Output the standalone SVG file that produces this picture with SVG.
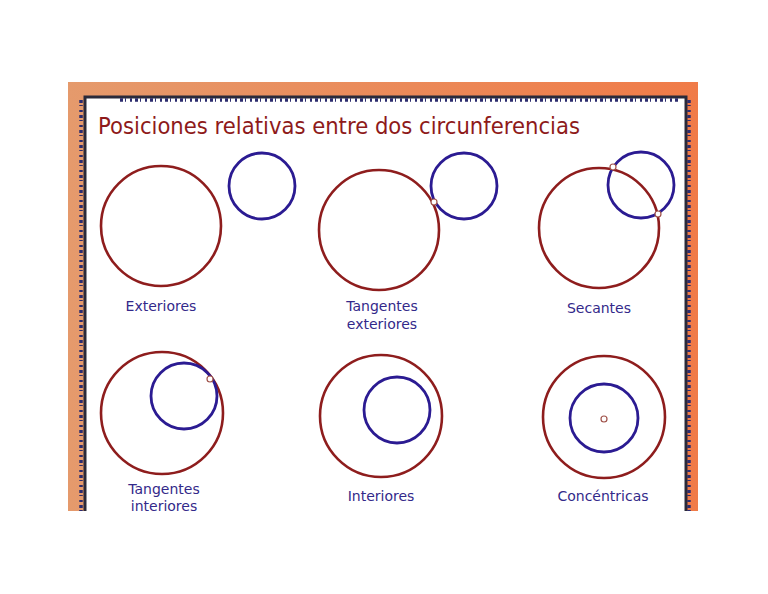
<svg xmlns="http://www.w3.org/2000/svg" width="768" height="594" viewBox="0 0 768 594">
<defs>
<linearGradient id="og" x1="0" y1="0" x2="1" y2="0">
<stop offset="0" stop-color="#e59a6c"/>
<stop offset="1" stop-color="#f07b48"/>
</linearGradient>
<clipPath id="cut"><rect x="0" y="0" width="768" height="511"/></clipPath>
<style>
.red{fill:none;stroke:#8e1d1d;stroke-width:2.6}
.blue{fill:none;stroke:#2b1b92;stroke-width:2.8}
.pt{fill:#fff;stroke:#a0524a;stroke-width:1.2}
.lbl{font-family:"DejaVu Sans",Verdana,sans-serif;font-size:14px;fill:#33298a;text-anchor:middle}
.title{font-family:"DejaVu Sans",sans-serif;font-size:23px;fill:#8e1a1a}
.tex{fill:none;stroke:#2c2c6e;stroke-width:3.5;stroke-dasharray:3 2 1 4 2 3}
</style>
</defs>
<rect width="768" height="594" fill="#fff"/>
<g clip-path="url(#cut)">
<rect id="frame" x="68" y="82" width="630" height="440" fill="url(#og)"/>
<g id="panel">
<rect x="85" y="97" width="601" height="425" fill="#fff" stroke="#2a2a3a" stroke-width="3"/>
<line class="tex" x1="81" y1="100" x2="81" y2="520"/>
<line class="tex" x1="689" y1="100" x2="689" y2="520" stroke-width="2"/>
<line class="tex" x1="120" y1="100" x2="680" y2="100" stroke-dasharray="8 5 3 9 12 6"/>
</g>
<text id="title" class="title" x="98" y="134" textLength="482" lengthAdjust="spacingAndGlyphs">Posiciones relativas entre dos circunferencias</text>
<g id="exteriores">
<circle class="red" cx="161" cy="226" r="60"/>
<circle class="blue" cx="262" cy="186" r="33"/>
<text class="lbl" x="161" y="311">Exteriores</text>
</g>
<g id="tangentes-exteriores">
<circle class="red" cx="379" cy="230" r="60"/>
<circle class="blue" cx="464" cy="186" r="33"/>
<circle class="pt" cx="434" cy="202" r="3"/>
<text class="lbl" x="382" y="311">Tangentes</text>
<text class="lbl" x="382" y="329">exteriores</text>
</g>
<g id="secantes">
<circle class="red" cx="599" cy="228" r="60"/>
<circle class="blue" cx="641" cy="185" r="33"/>
<circle class="pt" cx="613" cy="167" r="3"/>
<circle class="pt" cx="658" cy="214" r="3"/>
<text class="lbl" x="599" y="313">Secantes</text>
</g>
<g id="tangentes-interiores">
<circle class="red" cx="162" cy="413" r="61"/>
<circle class="blue" cx="184" cy="396" r="33"/>
<circle class="pt" cx="210" cy="379" r="3"/>
<text class="lbl" x="164" y="494">Tangentes</text>
<text class="lbl" x="164" y="511">interiores</text>
</g>
<g id="interiores">
<circle class="red" cx="381" cy="416" r="61"/>
<circle class="blue" cx="397" cy="410" r="33"/>
<text class="lbl" x="381" y="501">Interiores</text>
</g>
<g id="concentricas">
<circle class="red" cx="604" cy="417" r="61"/>
<circle class="blue" cx="604" cy="418" r="34"/>
<circle class="pt" cx="604" cy="419" r="3"/>
<text class="lbl" x="603" y="501">Concéntricas</text>
</g>
</g>
</svg>
